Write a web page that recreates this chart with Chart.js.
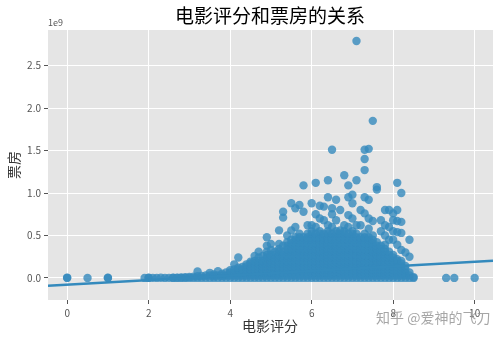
<!DOCTYPE html>
<html>
<head>
<meta charset="utf-8">
<script src="https://cdn.jsdelivr.net/npm/chart.js@4"></script>
<style>html,body{margin:0;background:#fff}</style>
</head>
<body>
<canvas id="chart1" width="503" height="341" style="width:503px;height:341px"></canvas>
<script>
// 评分 (x) 与对应的票房列表 (y, 单位 1e9)
const scores = [0.0, 0.5, 1.0, 1.9, 2.0, 2.1, 2.2, 2.3, 2.4, 2.5, 2.6, 2.7, 2.8, 2.9,
  3.0, 3.1, 3.2, 3.3, 3.4, 3.5, 3.6, 3.7, 3.8, 3.9, 4.0, 4.1, 4.2, 4.3, 4.4, 4.5,
  4.6, 4.7, 4.8, 4.9, 5.0, 5.1, 5.2, 5.3, 5.4, 5.5, 5.6, 5.7, 5.8, 5.9, 6.0, 6.1,
  6.2, 6.3, 6.4, 6.5, 6.6, 6.7, 6.8, 6.9, 7.0, 7.1, 7.2, 7.3, 7.4, 7.5, 7.6, 7.7,
  7.8, 7.9, 8.0, 8.1, 8.2, 8.3, 8.4, 8.5, 9.3, 9.5, 10.0];
const boxOffice = [
  [0, 0.004], [0], [0, 0.003], [0], [0, 0.002], [0.001], [0], [0.002], [0], [0.001],
  [0, 0.003], [0, 0.004], [0, 0.006], [0, 0.008],
  [0, 0.012], [0, 0.015], [0, 0.02, 0.075], [0, 0.022], [0, 0.028],
  [0, 0.03, 0.06], [0, 0.02, 0.04], [0, 0.03, 0.08], [0, 0.025, 0.05], [0, 0.03, 0.065],
  [0, 0.03, 0.065, 0.09], [0, 0.03, 0.065, 0.1, 0.16], [0, 0.03, 0.065, 0.1, 0.12, 0.24],
  [0, 0.03, 0.065, 0.1, 0.13], [0, 0.03, 0.065, 0.1, 0.135, 0.16],
  [0, 0.03, 0.065, 0.1, 0.135, 0.17, 0.19],
  [0, 0.03, 0.065, 0.1, 0.135, 0.17, 0.2, 0.26],
  [0, 0.03, 0.065, 0.1, 0.135, 0.17, 0.2, 0.24, 0.31],
  [0, 0.03, 0.065, 0.1, 0.135, 0.17, 0.2, 0.26],
  [0, 0.03, 0.065, 0.1, 0.135, 0.17, 0.2, 0.24, 0.27, 0.31, 0.38, 0.48],
  [0, 0.03, 0.065, 0.1, 0.135, 0.17, 0.2, 0.24, 0.27, 0.33, 0.4],
  [0, 0.03, 0.065, 0.1, 0.135, 0.17, 0.2, 0.24, 0.27, 0.31],
  [0, 0.03, 0.065, 0.1, 0.135, 0.17, 0.2, 0.24, 0.27, 0.31, 0.34, 0.4, 0.56],
  [0, 0.03, 0.065, 0.1, 0.135, 0.17, 0.2, 0.24, 0.27, 0.31, 0.38, 0.71, 0.78],
  [0, 0.03, 0.065, 0.1, 0.135, 0.17, 0.2, 0.24, 0.27, 0.31, 0.34, 0.38, 0.42, 0.5],
  [0, 0.03, 0.065, 0.1, 0.135, 0.17, 0.2, 0.24, 0.27, 0.31, 0.34, 0.38, 0.41, 0.45, 0.56, 0.88],
  [0, 0.03, 0.065, 0.1, 0.135, 0.17, 0.2, 0.24, 0.27, 0.31, 0.34, 0.38, 0.41, 0.45, 0.48, 0.6, 0.82],
  [0, 0.03, 0.065, 0.1, 0.135, 0.17, 0.2, 0.24, 0.27, 0.31, 0.34, 0.38, 0.41, 0.45, 0.48, 0.52, 0.86],
  [0, 0.03, 0.065, 0.1, 0.135, 0.17, 0.2, 0.24, 0.27, 0.31, 0.34, 0.38, 0.41, 0.45, 0.48, 0.78, 1.09],
  [0, 0.03, 0.065, 0.1, 0.135, 0.17, 0.2, 0.24, 0.27, 0.31, 0.34, 0.38, 0.41, 0.45, 0.48, 0.52, 0.62],
  [0, 0.03, 0.065, 0.1, 0.135, 0.17, 0.2, 0.24, 0.27, 0.31, 0.34, 0.38, 0.41, 0.45, 0.48, 0.52, 0.55, 0.62, 0.88],
  [0, 0.03, 0.065, 0.1, 0.135, 0.17, 0.2, 0.24, 0.27, 0.31, 0.34, 0.38, 0.41, 0.45, 0.48, 0.52, 0.6, 0.75, 1.12],
  [0, 0.03, 0.065, 0.1, 0.135, 0.17, 0.2, 0.24, 0.27, 0.31, 0.34, 0.38, 0.41, 0.45, 0.48, 0.52, 0.55, 0.7, 0.85],
  [0, 0.03, 0.065, 0.1, 0.135, 0.17, 0.2, 0.24, 0.27, 0.31, 0.34, 0.38, 0.41, 0.45, 0.48, 0.52, 0.68, 0.84],
  [0, 0.03, 0.065, 0.1, 0.135, 0.17, 0.2, 0.24, 0.27, 0.31, 0.34, 0.38, 0.41, 0.45, 0.48, 0.52, 0.55, 0.62, 0.95, 1.15],
  [0, 0.03, 0.065, 0.1, 0.135, 0.17, 0.2, 0.24, 0.27, 0.31, 0.34, 0.38, 0.41, 0.45, 0.48, 0.52, 0.6, 0.75, 0.82, 1.51],
  [0, 0.03, 0.065, 0.1, 0.135, 0.17, 0.2, 0.24, 0.27, 0.31, 0.34, 0.38, 0.41, 0.45, 0.48, 0.52, 0.55, 0.68, 0.92],
  [0, 0.03, 0.065, 0.1, 0.135, 0.17, 0.2, 0.24, 0.27, 0.31, 0.34, 0.38, 0.41, 0.45, 0.48, 0.52, 0.56, 0.8],
  [0, 0.03, 0.065, 0.1, 0.135, 0.17, 0.2, 0.24, 0.27, 0.31, 0.34, 0.38, 0.41, 0.45, 0.48, 0.52, 0.55, 0.62, 1.21],
  [0, 0.03, 0.065, 0.1, 0.135, 0.17, 0.2, 0.24, 0.27, 0.31, 0.34, 0.38, 0.41, 0.45, 0.48, 0.52, 0.6, 0.74, 0.95, 1.09],
  [0, 0.03, 0.065, 0.1, 0.135, 0.17, 0.2, 0.24, 0.27, 0.31, 0.34, 0.38, 0.41, 0.45, 0.48, 0.52, 0.55, 0.7, 0.88, 0.98],
  [0, 0.03, 0.065, 0.1, 0.135, 0.17, 0.2, 0.24, 0.27, 0.31, 0.34, 0.38, 0.41, 0.45, 0.48, 0.52, 0.62, 1.15, 2.79],
  [0, 0.03, 0.065, 0.1, 0.135, 0.17, 0.2, 0.24, 0.27, 0.31, 0.34, 0.38, 0.41, 0.45, 0.48, 0.62, 0.8],
  [0, 0.03, 0.065, 0.1, 0.135, 0.17, 0.2, 0.24, 0.27, 0.31, 0.34, 0.38, 0.41, 0.45, 0.48, 0.52, 0.76, 0.95, 1.27, 1.4, 1.51],
  [0, 0.03, 0.065, 0.1, 0.135, 0.17, 0.2, 0.24, 0.27, 0.31, 0.34, 0.38, 0.41, 0.45, 0.48, 0.58, 0.7, 0.92, 1.52],
  [0, 0.03, 0.065, 0.1, 0.135, 0.17, 0.2, 0.24, 0.27, 0.31, 0.34, 0.38, 0.41, 0.45, 0.5, 0.67, 1.85],
  [0, 0.03, 0.065, 0.1, 0.135, 0.17, 0.2, 0.24, 0.27, 0.31, 0.34, 0.38, 0.42, 1.04, 1.07],
  [0, 0.03, 0.065, 0.1, 0.135, 0.17, 0.2, 0.24, 0.27, 0.31, 0.34, 0.38, 0.55, 0.68],
  [0, 0.03, 0.065, 0.1, 0.135, 0.17, 0.2, 0.24, 0.27, 0.31, 0.34, 0.39, 0.5, 0.62, 0.8],
  [0, 0.03, 0.065, 0.1, 0.135, 0.17, 0.2, 0.24, 0.27, 0.31, 0.45, 0.6, 0.8],
  [0, 0.03, 0.065, 0.1, 0.135, 0.17, 0.2, 0.24, 0.27, 0.45, 0.55, 0.68, 0.76],
  [0, 0.03, 0.065, 0.1, 0.135, 0.17, 0.2, 0.22, 0.39, 0.54, 0.67, 0.8, 1.12],
  [0, 0.03, 0.065, 0.1, 0.135, 0.17, 0.2, 0.33, 0.53, 0.66, 1.0],
  [0, 0.03, 0.065, 0.1, 0.14, 0.3], [0, 0.03, 0.065, 0.25, 0.45], [0, 0.01],
  [0], [0], [0]
];

// 回归线两端
const fitX = [-0.47, 10.45];
const fitY = [-0.093, 0.202];

const xTicks = [0, 2, 4, 6, 8, 10];
const yTicks = [0, 0.5, 1.0, 1.5, 2.0, 2.5];

let points = [];
scores.forEach((s, i) => {
  boxOffice[i].forEach(v => points.push({x: s, y: v}));
});
let fitLine = fitX.map((x, i) => ({x: x, y: fitY[i]}));

const FONT = '"Noto Sans CJK SC", "DejaVu Sans", sans-serif';
const BLUE = '#348ABD';

const decor = {
  id: 'decor',
  beforeDraw: (c) => {
    const ctx = c.ctx, a = c.chartArea;
    ctx.save();
    ctx.fillStyle = '#fff';
    ctx.fillRect(0, 0, c.width, c.height);
    ctx.fillStyle = '#E5E5E5';
    ctx.fillRect(a.left, a.top, a.right - a.left, a.bottom - a.top);
    ctx.restore();
  },
  afterDraw: (c) => {
    const ctx = c.ctx, a = c.chartArea;
    ctx.save();
    ctx.textAlign = 'center';
    ctx.textBaseline = 'middle';
    ctx.fillStyle = '#000';
    ctx.font = '19px ' + FONT;
    ctx.fillText('电影评分和票房的关系', 270, 16);
    ctx.fillStyle = '#333';
    ctx.font = '14px ' + FONT;
    ctx.fillText('电影评分', 270, 326);
    ctx.save();
    ctx.translate(14, 165);
    ctx.rotate(-Math.PI / 2);
    ctx.fillText('票房', 0, 0);
    ctx.restore();
    ctx.fillStyle = '#555';
    ctx.font = '9px ' + FONT;
    ctx.textAlign = 'left';
    ctx.fillText('1e9', a.left, 23);
    ctx.fillStyle = 'rgba(150,150,150,0.85)';
    ctx.font = '14px ' + FONT;
    ctx.fillText('知乎 @爱神的飞刀', 376, 318);
    ctx.restore();
  }
};

let chart = new Chart(document.getElementById('chart1'), {
  type: 'scatter',
  data: {
    datasets: [{
      type: 'line',
      data: fitLine,
      borderColor: BLUE,
      borderWidth: 2.5,
      pointRadius: 0,
      order: 0
    }, {
      data: points,
      backgroundColor: 'rgba(52,138,189,0.8)',
      borderWidth: 0,
      pointRadius: 4.2,
      order: 1
    }]
  },
  options: {
    responsive: false,
    animation: false,
    layout: {padding: {top: 30, right: 10, left: 0, bottom: 0}},
    plugins: {legend: {display: false}, tooltip: {enabled: false}},
    scales: {
      x: {
        type: 'linear', min: -0.47, max: 10.45,
        afterBuildTicks: (s) => { s.ticks = xTicks.map(v => ({value: v})); },
        afterFit: (s) => { s.height = 41; },
        ticks: {color: '#555', font: {family: FONT, size: 10}, padding: 3,
          callback: (v) => v},
        grid: {color: '#fff', lineWidth: 1, tickColor: '#555', tickLength: 4},
        border: {display: false}
      },
      y: {
        type: 'linear', min: -0.26, max: 2.92,
        afterBuildTicks: (s) => { s.ticks = yTicks.map(v => ({value: v})); },
        afterFit: (s) => { s.width = 48; },
        ticks: {color: '#555', font: {family: FONT, size: 10}, padding: 3,
          callback: (v) => v.toFixed(1)},
        grid: {color: '#fff', lineWidth: 1, tickColor: '#555', tickLength: 4},
        border: {display: false}
      }
    }
  },
  plugins: [decor]
});
</script>
</body>
</html>
